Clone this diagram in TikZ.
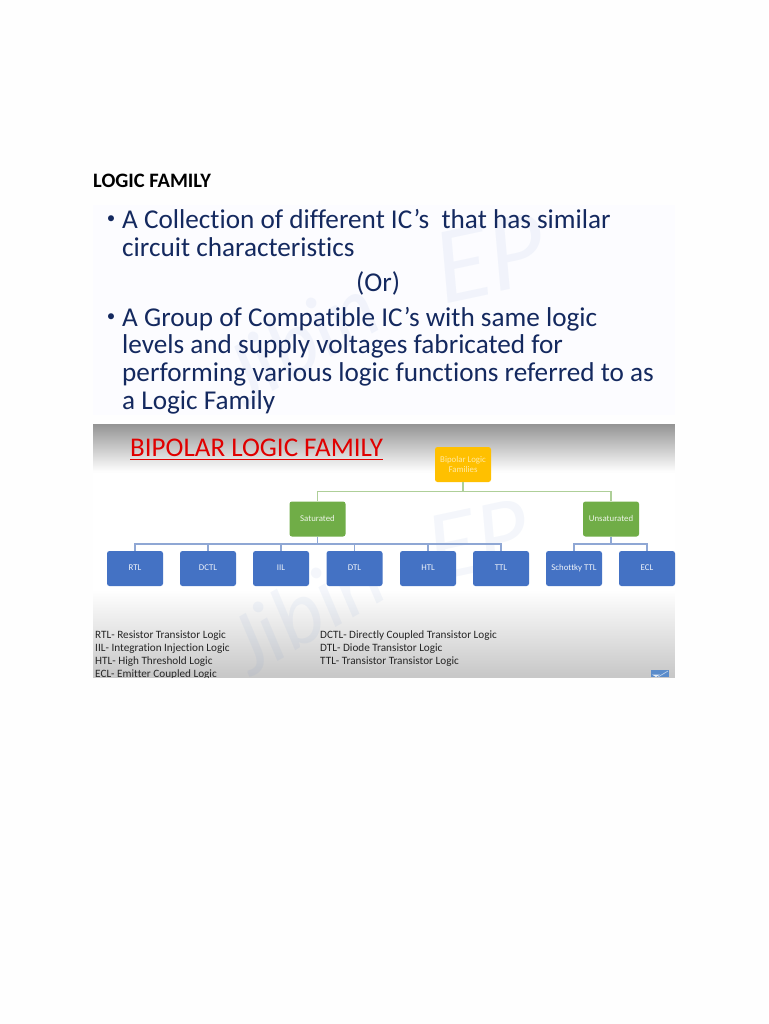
\documentclass[tikz,border=0pt]{standalone}
\usepackage{fontspec}
\setmainfont[RawFeature={-liga}]{Carlito}
\usetikzlibrary{positioning}
\definecolor{slideblue}{HTML}{14295F}
\definecolor{boxblue}{HTML}{4472C4}
\definecolor{boxgreen}{HTML}{70AD47}
\definecolor{boxgold}{HTML}{FFC000}
\definecolor{linkblue}{HTML}{8FA7D4}
\definecolor{linkgreen}{HTML}{AECF98}
\definecolor{cornerblue}{HTML}{5A8CCB}
\tikzset{
  bluebox/.style={fill=boxblue,rounded corners=2.5pt,minimum width=56pt,minimum height=35pt,inner sep=0pt,text height=6pt,text depth=2pt,text=white!92!boxblue,font=\fontsize{8.8}{10.5}\selectfont},
  greenbox/.style={bluebox,fill=boxgreen,text=white!88!boxgreen},
  goldbox/.style={bluebox,fill=boxgold,text=boxgold!35!white,align=center},
  slidetext/.style={anchor=base west,inner sep=0pt,text=slideblue,font=\fontsize{27.2}{28}\selectfont},
  bulletmark/.style={anchor=base,inner sep=0pt,text=slideblue,font=\fontsize{17}{20}\selectfont},
  keytext/.style={anchor=base west,inner sep=0pt,text=black!85,font=\fontsize{11.2}{13}\selectfont},
  bluelink/.style={linkblue,line width=1.1pt},
  greenlink/.style={linkgreen,line width=1.1pt},
  watermark/.style={inner sep=0pt,text=boxblue,text opacity=0.06}
}
\begin{document}
\begin{tikzpicture}[x=1pt,y=-1pt]
\useasboundingbox (0,0) rectangle (768,1024);
\fill[black!0.5] (0,0) rectangle (768,1024);
% upper slide
\fill[white!99!blue] (93,205) rectangle (675,415);
\node[watermark,font=\itshape\fontsize{110}{110}\selectfont,rotate=12] (markep) at (490,258) {EP};
\node[watermark,font=\itshape\fontsize{90}{90}\selectfont,rotate=30] (markjibin) at (300,340) {Jibin};
\node [anchor=base west,inner sep=0pt,font=\bfseries\fontsize{20.5}{24}\selectfont] (heading) at (93,187.5) {LOGIC FAMILY};
\node [bulletmark] (bulletone) at (111,224) {•};
\node [slidetext] (lineone) at (122,229) {A Collection of different IC’s\ \ that has similar};
\node [slidetext] (linetwo) at (122,256.5) {circuit characteristics};
\node [slidetext,anchor=base] (lineor) at (378,291) {(Or)};
\node [bulletmark] (bullettwo) at (111,321) {•};
\node [slidetext] (linethree) at (122,326) {A Group of Compatible IC’s with same logic};
\node [slidetext] (linefour) at (122,353.5) {levels and supply voltages fabricated for};
\node [slidetext] (linefive) at (122,381) {performing various logic functions referred to as};
\node [slidetext] (linesix) at (122,409) {a Logic Family};
% lower slide
\fill[white] (93,424) rectangle (675,677);
\foreach \k [evaluate=\k as \g using 42*(1-\k/48)] in {0,...,47}
  \fill[black!\g] (93,424+\k) rectangle (675,425.5+\k);
\foreach \k [evaluate=\k as \g using 22*(\k/87)] in {0,...,86}
  \fill[black!\g] (93,590+\k) rectangle (675,591.5+\k);
\node[watermark,font=\itshape\fontsize{100}{100}\selectfont,rotate=12] (markeptwo) at (478,540) {EP};
\begin{scope}
\clip (93,424) rectangle (675,677);
\node[watermark,font=\itshape\fontsize{90}{90}\selectfont,rotate=30] (markjibintwo) at (305,610) {Jibin};
\end{scope}
\node [anchor=base west,inner sep=0pt,text=red!88!black,font=\fontsize{27}{30}\selectfont] (bipolartitle) at (130,456) {BIPOLAR LOGIC FAMILY};
\draw[red!88!black,line width=1.3pt] ([yshift=-3.5pt]bipolartitle.base west) -- ([yshift=-3.5pt]bipolartitle.base east);
\node[goldbox,text height=,text depth=] (bipolar) at (463,464.5) {Bipolar Logic\\Families};
\node[greenbox] (saturated) at (317.5,519) {Saturated};
\node[greenbox] (unsaturated) at (611,519) {Unsaturated};
\node[bluebox] (rtl) at (135,568.5) {RTL};
\node[bluebox] (dctl) at (208,568.5) {DCTL};
\node[bluebox] (iil) at (281,568.5) {IIL};
\node[bluebox] (dtl) at (354.5,568.5) {DTL};
\node[bluebox] (htl) at (428,568.5) {HTL};
\node[bluebox] (ttl) at (501,568.5) {TTL};
\node[bluebox] (schottky) at (574,568.5) {Schottky TTL};
\node[bluebox] (ecl) at (647,568.5) {ECL};
\coordinate (topbus) at (463,491.5);
\coordinate (satbus) at (317.5,544);
\coordinate (unsatbus) at (611,544);
\draw[greenlink] (bipolar.south) -- (topbus);
\draw[greenlink] (topbus) -| (saturated.north);
\draw[greenlink] (topbus) -| (unsaturated.north);
\draw[bluelink] (saturated.south) -- (satbus);
\foreach \kid in {rtl,dctl,iil,dtl,htl,ttl}
  \draw[bluelink] (satbus) -| (\kid.north);
\draw[bluelink] (unsaturated.south) -- (unsatbus);
\foreach \kid in {schottky,ecl}
  \draw[bluelink] (unsatbus) -| (\kid.north);
\begin{scope}
\clip (93,424) rectangle (675,677);
\node [keytext] (keyrtl) at (95,638) {RTL- Resistor Transistor Logic};
\node [keytext] (keyiil) at (95,651) {IIL- Integration Injection Logic};
\node [keytext] (keyhtl) at (95,664) {HTL- High Threshold Logic};
\node [keytext] (keyecl) at (95,677) {ECL- Emitter Coupled Logic};
\node [keytext] (keydctl) at (320,638) {DCTL- Directly Coupled Transistor Logic};
\node [keytext] (keydtl) at (320,651) {DTL- Diode Transistor Logic};
\node [keytext] (keyttl) at (320,664) {TTL- Transistor Transistor Logic};
\fill[cornerblue] (651,670) rectangle (669,677);
\fill[white!85!cornerblue] (652,674.5) -- (660,674.5) -- (656,677) -- cycle;
\draw[white!60!cornerblue,line width=0.7pt] (658,677) -- (668,671);
\end{scope}
\end{tikzpicture}
\end{document}
